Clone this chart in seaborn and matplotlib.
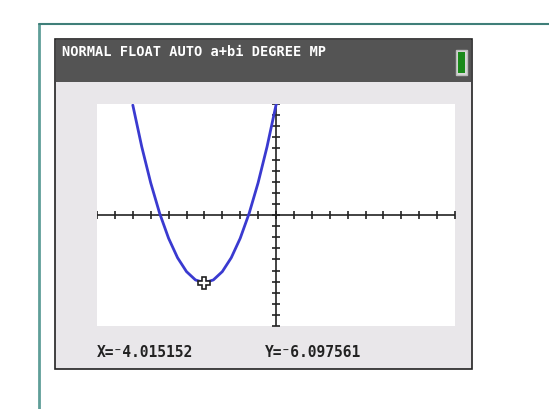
import matplotlib
matplotlib.use("Agg")
import matplotlib.pyplot as plt
import seaborn as sns
import pandas as pd
from matplotlib.patches import Rectangle
from matplotlib.lines import Line2D

sns.set_theme(style="white")
plt.rcParams['font.family'] = ['DejaVu Sans Mono', 'DejaVu Sans']

# curve sample points
x_vals = [-8.0, -7.5, -7.0, -6.5, -6.0, -5.5, -5.0, -4.5, -4.0, -3.5, -3.0, -2.5, -2.0, -1.5, -1.0, -0.5, 0.0, 0.1]
y_vals = [9.9, 6.15, 2.9, 0.15, -2.1, -3.85, -5.1, -5.85, -6.1, -5.85, -5.1, -3.85, -2.1, 0.15, 2.9, 6.15, 9.9, 10.5]
trace_x = [-4.015152]
trace_y = [-6.097561]
tick_vals = list(range(-10, 11))
header = "NORMAL FLOAT AUTO a+bi DEGREE MP"
x_label = "X=\u207b4.015152"
y_label = "Y=\u207b6.097561"

W, H = 549, 410
fig = plt.figure(figsize=(W/100, H/100), dpi=100)
fig.patch.set_facecolor("white")

def fx(px): return px / W
def fy(py): return 1 - py / H

# teal outer frame
fig.add_artist(Line2D([fx(39), fx(39)], [fy(25), fy(410)], color="#5f9e98", lw=2))
fig.add_artist(Line2D([fx(39), fx(549)], [fy(25), fy(25)], color="#3f7f79", lw=1.5))
# screen
fig.add_artist(Rectangle((fx(55), fy(370)), fx(417), 330/H, facecolor="#e9e7ea", edgecolor="#222222", lw=1.2))
fig.add_artist(Rectangle((fx(56), fy(83)), fx(415), 42/H, facecolor="#545454", edgecolor="none"))
fig.text(fx(62), fy(52), header, color="white", fontsize=9.8, fontweight="bold", va="center")
# battery
fig.add_artist(Rectangle((fx(456), fy(76)), fx(11), 25/H, facecolor="#d8d8d8", edgecolor="#bbbbbb", lw=1))
fig.add_artist(Rectangle((fx(458), fy(74)), fx(7), 21/H, facecolor="#1a8a1a", edgecolor="none"))

ax = fig.add_axes([fx(97), fy(327), 358/W, 222/H])
ax.set_zorder(10)
ax.set_facecolor("white")
ax.set_xlim(-10, 10)
ax.set_ylim(-10, 10)
for s in ax.spines.values():
    s.set_visible(False)
ax.set_xticks([]); ax.set_yticks([])

ax.axhline(0, color="#222222", lw=1.2)
ax.axvline(0, color="#222222", lw=1.2)
ax.plot(tick_vals, [0]*len(tick_vals), ls="none", marker="|", ms=6, mew=1.2, color="#222222")
ax.plot([0]*len(tick_vals), tick_vals, ls="none", marker="_", ms=6, mew=1.2, color="#222222")

df = pd.DataFrame({"x": x_vals, "y": y_vals})
sns.lineplot(data=df, x="x", y="y", ax=ax, color="#3a3ad0", lw=2, sort=True)
ax.set_xlabel(""); ax.set_ylabel("")
ax.plot(trace_x, trace_y, marker="P", ms=8, color="#222222", mfc="white", mew=1.2, ls="none")

fig.text(fx(97), fy(353), x_label, color="#222222", fontsize=10.5, fontweight="bold", va="center")
fig.text(fx(265), fy(353), y_label, color="#222222", fontsize=10.5, fontweight="bold", va="center")

fig.savefig("out.png", dpi=100, facecolor="white")
